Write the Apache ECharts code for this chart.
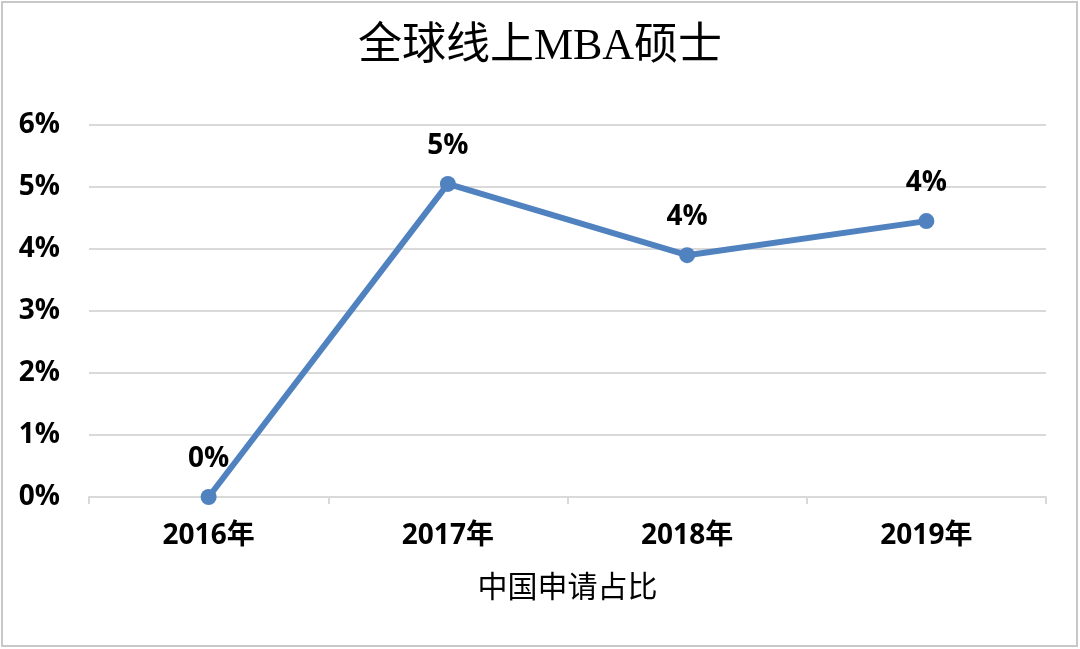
<!DOCTYPE html>
<html>
<head>
<meta charset="utf-8">
<script src="https://cdn.jsdelivr.net/npm/echarts@6/dist/echarts.min.js"></script>
<style>
  html, body { margin: 0; padding: 0; background: #fff; }
  #main { width: 1080px; height: 649px; }
</style>
</head>
<body>
<div id="main"></div>
<script>
// 数据
var years = ['2016年', '2017年', '2018年', '2019年'];
var ratio = [0, 5.05, 3.9, 4.45]; // 中国申请占比 (%)
var yTicks = [0, 1, 2, 3, 4, 5, 6];

var myChart = echarts.init(document.getElementById('main'));

var option = {
    backgroundColor: '#fff',
    title: {
        text: '全球线上MBA硕士',
        left: 'center',
        top: 20,
        textStyle: {
            color: '#000',
            fontSize: 44,
            fontWeight: 'normal',
            fontFamily: '"Liberation Serif", "Noto Sans CJK SC", serif'
        }
    },
    graphic: [{
        type: 'rect',
        shape: { x: 2, y: 2, width: 1075, height: 644 },
        style: { fill: 'none', stroke: '#c8c8c8', lineWidth: 2 },
        silent: true
    }],
    grid: {
        left: 89,
        right: 34,
        top: 125,
        bottom: 152,
        containLabel: false
    },
    xAxis: {
        type: 'category',
        data: years,
        boundaryGap: true,
        name: '中国申请占比',
        nameLocation: 'middle',
        nameGap: 74,
        nameTextStyle: {
            color: '#000',
            fontSize: 30,
            fontFamily: '"Noto Sans CJK SC", sans-serif'
        },
        axisLine: { lineStyle: { color: '#d9d9d9', width: 2 } },
        axisTick: { show: true, length: 7, lineStyle: { color: '#d9d9d9', width: 2 } },
        axisLabel: {
            margin: 25,
            color: '#000',
            fontSize: 28,
            fontWeight: 'bold',
            fontFamily: '"Open Sans", "Noto Sans CJK SC", sans-serif'
        }
    },
    yAxis: {
        type: 'value',
        min: yTicks[0],
        max: yTicks[yTicks.length - 1],
        interval: 1,
        axisLine: { show: false },
        axisTick: { show: false },
        splitLine: { lineStyle: { color: '#d9d9d9', width: 2 } },
        axisLabel: {
            margin: 29,
            color: '#000',
            fontSize: 28,
            fontWeight: 'bold',
            fontFamily: '"Open Sans", sans-serif',
            formatter: function (v) { return v + '%'; }
        }
    },
    series: [{
        name: '中国申请占比',
        type: 'line',
        data: ratio,
        symbol: 'circle',
        symbolSize: 16,
        lineStyle: { color: '#5182c0', width: 6 },
        itemStyle: { color: '#5182c0' },
        label: {
            show: true,
            position: 'top',
            distance: 16,
            color: '#000',
            fontSize: 28,
            fontWeight: 'bold',
            fontFamily: '"Open Sans", sans-serif',
            formatter: function (p) { return Math.round(p.value) + '%'; }
        },
        animation: false
    }]
};

myChart.setOption(option);
window.addEventListener('resize', function () {
    myChart.resize();
});
</script>
</body>
</html>
